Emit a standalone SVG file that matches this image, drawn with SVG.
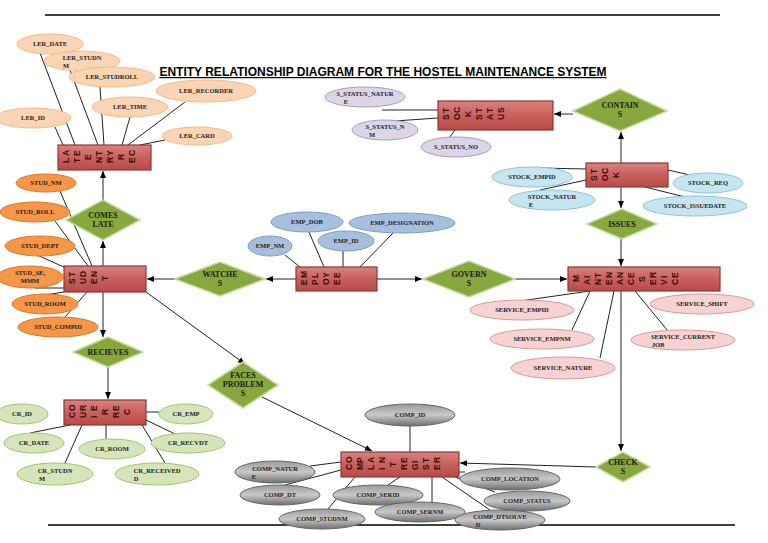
<svg xmlns="http://www.w3.org/2000/svg" width="768" height="543" viewBox="0 0 768 543">
<defs>
<linearGradient id="gr" x1="0" y1="0" x2="0" y2="1"><stop offset="0" stop-color="#d9827f"/><stop offset="0.5" stop-color="#c9605c"/><stop offset="1" stop-color="#b84a46"/></linearGradient>
<linearGradient id="gg" x1="0" y1="0" x2="0" y2="1"><stop offset="0" stop-color="#9a9a9a"/><stop offset="0.5" stop-color="#c8c8c8"/><stop offset="1" stop-color="#6e6e6e"/></linearGradient>
<marker id="ar" markerWidth="8" markerHeight="8" refX="7" refY="4" orient="auto" markerUnits="userSpaceOnUse"><path d="M0,1 L7,4 L0,7 z" fill="#000"/></marker>
<style>
.e rect{fill:url(#gr);stroke:#8c3836;stroke-width:1.2}
.e text{font-family:"Liberation Sans",sans-serif;font-weight:bold;font-size:8.5px;fill:#3a1010}
.d polygon{fill:#86a83c;stroke:#c5d9a0;stroke-width:1.5}
.d text,.a text{font-family:"Liberation Serif",serif;font-weight:bold;text-anchor:middle}
.d text{font-size:8px;fill:#1a1a1a}
.a text{font-size:6.5px;fill:#222}
.a ellipse{stroke-width:1}
.l{fill:#fbd4b4;stroke:#f5b98a}
.s{fill:#f79646;stroke:#d9772a}
.b{fill:#a7bfdf;stroke:#7e9cc6}
.v{fill:#dcd5e8;stroke:#a99cc4}
.c{fill:#c5e6f0;stroke:#8dc4d8}
.p{fill:#f6d2d2;stroke:#d99a9a}
.g{fill:#d5e5b9;stroke:#a5c272}
.k{fill:url(#gg);stroke:#666}
#conn line{stroke:#222;stroke-width:1;fill:none}
#conn .ar{marker-end:url(#ar)}
</style>
</defs>
<rect width="768" height="543" fill="#fff"/>
<line x1="45" y1="15" x2="720" y2="15" stroke="#000" stroke-width="1.5"/>
<line x1="48" y1="525" x2="735" y2="525" stroke="#000" stroke-width="1.5"/>
<text x="383" y="76" font-family="Liberation Sans,sans-serif" font-weight="bold" font-size="12" text-anchor="middle" text-decoration="underline">ENTITY RELATIONSHIP DIAGRAM FOR THE HOSTEL MAINTENANCE SYSTEM</text>

<g id="conn">
<line x1="40" y1="53" x2="75" y2="145"/><line x1="70" y1="70" x2="98" y2="145"/><line x1="100" y1="87" x2="104" y2="145"/><line x1="185" y1="102" x2="128" y2="145"/><line x1="130" y1="117" x2="122" y2="145"/><line x1="55" y1="127" x2="63" y2="145"/><line x1="165" y1="140" x2="140" y2="145"/>
<line x1="60" y1="191" x2="92" y2="266"/><line x1="55" y1="221" x2="88" y2="266"/><line x1="37" y1="255" x2="66" y2="268"/><line x1="35" y1="288" x2="64" y2="288"/><line x1="45" y1="295" x2="64" y2="292"/><line x1="65" y1="317" x2="87" y2="292"/>
<line x1="309" y1="232" x2="324" y2="267"/><line x1="343" y1="251" x2="343" y2="267"/><line x1="393" y1="233" x2="360" y2="267"/><line x1="285" y1="255" x2="300" y2="267"/>
<line x1="382" y1="110" x2="438" y2="110"/><line x1="380" y1="122" x2="438" y2="118"/><line x1="449" y1="138" x2="455" y2="130"/>
<line x1="540" y1="168" x2="586" y2="169"/><line x1="540" y1="190" x2="586" y2="180"/><line x1="668" y1="170" x2="690" y2="175"/><line x1="645" y1="187" x2="685" y2="197"/>
<line x1="520" y1="301" x2="590" y2="291"/><line x1="572" y1="330" x2="590" y2="291"/><line x1="600" y1="358" x2="614" y2="291"/><line x1="668" y1="297" x2="690" y2="296"/><line x1="668" y1="331" x2="635" y2="291"/>
<line x1="159" y1="412" x2="146" y2="412"/><line x1="30" y1="433" x2="70" y2="425"/><line x1="106" y1="439" x2="106" y2="425"/><line x1="175" y1="434" x2="146" y2="420"/><line x1="65" y1="463" x2="82" y2="425"/><line x1="165" y1="463" x2="142" y2="425"/>
<line x1="410" y1="426" x2="410" y2="452"/><line x1="310" y1="466" x2="341" y2="462"/><line x1="285" y1="485" x2="341" y2="470"/><line x1="388" y1="485" x2="400" y2="477"/><line x1="465" y1="472" x2="459" y2="472"/><line x1="495" y1="492" x2="455" y2="477"/><line x1="328" y1="509" x2="355" y2="477"/><line x1="432" y1="502" x2="432" y2="477"/><line x1="490" y1="510" x2="442" y2="477"/>
<line class="ar" x1="103" y1="266" x2="103" y2="241"/><line class="ar" x1="103" y1="200" x2="103" y2="171"/>
<line class="ar" x1="296" y1="279" x2="266" y2="279"/><line class="ar" x1="175" y1="279" x2="147" y2="279"/>
<line class="ar" x1="103" y1="292" x2="103" y2="337"/><line class="ar" x1="108" y1="367" x2="108" y2="399"/>
<line class="ar" x1="146" y1="292" x2="245" y2="364"/><line class="ar" x1="262" y1="397" x2="372" y2="451"/>
<line class="ar" x1="377" y1="279" x2="422" y2="279"/><line class="ar" x1="515" y1="279" x2="567" y2="279"/>
<line class="ar" x1="621" y1="163" x2="621" y2="132"/><line class="ar" x1="573" y1="114" x2="554" y2="114"/>
<line class="ar" x1="621" y1="187" x2="621" y2="208"/><line class="ar" x1="621" y1="239" x2="621" y2="266"/>
<line class="ar" x1="621" y1="291" x2="621" y2="451"/><line class="ar" x1="596" y1="467" x2="460" y2="463"/>
</g>

<g id="ler" class="e"><rect x="58" y="145" width="93" height="25"/>
<text x="69 69" y="163 156" rotate="-90">LA</text><text x="80 80" y="163 156" rotate="-90">TE</text><text x="91" y="160" rotate="-90">E</text><text x="102 102" y="163 156" rotate="-90">NT</text><text x="113 113" y="163 156" rotate="-90">RY</text><text x="124" y="160" rotate="-90">R</text><text x="135 135" y="163 156" rotate="-90">EC</text></g>
<g id="student" class="e"><rect x="64" y="266" width="82" height="26"/>
<text x="75 75" y="284 277" rotate="-90">ST</text><text x="86 86" y="284 277" rotate="-90">UD</text><text x="97 97" y="284 277" rotate="-90">EN</text><text x="108" y="281" rotate="-90">T</text></g>
<g id="employee" class="e"><rect x="296" y="267" width="81" height="24"/>
<text x="307 307" y="285 278" rotate="-90">EM</text><text x="318 318" y="285 278" rotate="-90">PL</text><text x="329 329" y="285 278" rotate="-90">OY</text><text x="340 340" y="285 278" rotate="-90">EE</text></g>
<g id="maint" class="e"><rect x="568" y="267" width="152" height="24"/>
<text x="579" y="282" rotate="-90">M</text><text x="590 590" y="285 278" rotate="-90">AI</text><text x="601 601" y="285 278" rotate="-90">NT</text><text x="612 612" y="285 278" rotate="-90">EN</text><text x="623 623" y="285 278" rotate="-90">AN</text><text x="634 634" y="285 278" rotate="-90">CE</text><text x="645" y="282" rotate="-90">S</text><text x="656 656" y="285 278" rotate="-90">ER</text><text x="667 667" y="285 278" rotate="-90">VI</text><text x="678 678" y="285 278" rotate="-90">CE</text></g>
<g id="stockstatus" class="e"><rect x="438" y="101" width="115" height="29"/>
<text x="449 449" y="120 113" rotate="-90">ST</text><text x="460 460" y="120 113" rotate="-90">OC</text><text x="471" y="117" rotate="-90">K</text><text x="482 482" y="120 113" rotate="-90">ST</text><text x="493 493" y="120 113" rotate="-90">AT</text><text x="504 504" y="120 113" rotate="-90">US</text></g>
<g id="stock" class="e"><rect x="586" y="163" width="82" height="24"/>
<text x="597 597" y="181 174" rotate="-90">ST</text><text x="608 608" y="181 174" rotate="-90">OC</text><text x="619" y="178" rotate="-90">K</text></g>
<g id="courier" class="e"><rect x="64" y="400" width="82" height="25"/>
<text x="75 75" y="418 411" rotate="-90">CO</text><text x="86 86" y="418 411" rotate="-90">UR</text><text x="97 97" y="418 411" rotate="-90">IE</text><text x="108" y="415" rotate="-90">R</text><text x="119 119" y="418 411" rotate="-90">RE</text><text x="130" y="415" rotate="-90">C</text></g>
<g id="complaint" class="e"><rect x="341" y="452" width="118" height="25"/>
<text x="352 352" y="470 463" rotate="-90">CO</text><text x="363 363" y="470 463" rotate="-90">MP</text><text x="374 374" y="470 463" rotate="-90">LA</text><text x="385 385" y="470 463" rotate="-90">IN</text><text x="396" y="467" rotate="-90">T</text><text x="407 407" y="470 463" rotate="-90">RE</text><text x="418 418" y="470 463" rotate="-90">GI</text><text x="429 429" y="470 463" rotate="-90">ST</text><text x="440 440" y="470 463" rotate="-90">ER</text></g>

<g id="comeslate" class="d"><polygon points="66,220 103,200 140,220 103,240"/><text x="103" y="218">COMES</text><text x="103" y="227">LATE</text></g>
<g id="watches" class="d"><polygon points="175,279 220,262 265,279 220,296"/><text x="220" y="277">WATCHE</text><text x="220" y="286">S</text></g>
<g id="governs" class="d"><polygon points="423,279 469,261 515,279 469,297"/><text x="469" y="277">GOVERN</text><text x="469" y="286">S</text></g>
<g id="contains" class="d"><polygon points="573,111 620,89 667,111 620,131"/><text x="620" y="108">CONTAIN</text><text x="620" y="117">S</text></g>
<g id="issues" class="d"><polygon points="587,224 622,209 657,224 622,239"/><text x="622" y="227">ISSUES</text></g>
<g id="recieves" class="d"><polygon points="73,352 108,337 143,352 108,367"/><text x="108" y="355">RECIEVES</text></g>
<g id="faces" class="d"><polygon points="208,385 243,362 278,385 243,408"/><text x="243" y="378">FACES</text><text x="243" y="387">PROBLEM</text><text x="243" y="396">S</text></g>
<g id="checks" class="d"><polygon points="596,467 623,452 650,467 623,482"/><text x="623" y="465">CHECK</text><text x="623" y="474">S</text></g>

<g class="a">
<g id="ler_date"><ellipse class="l" cx="50" cy="44" rx="33" ry="10"/><text x="50" y="46">LER_DATE</text></g>
<g id="ler_studnm"><ellipse class="l" cx="82" cy="61" rx="38" ry="10"/><text x="82" y="60">LER_STUDN</text><text x="66" y="68">M</text></g>
<g id="ler_studroll"><ellipse class="l" cx="112" cy="77" rx="43" ry="10"/><text x="112" y="79">LER_STUDROLL</text></g>
<g id="ler_recorder"><ellipse class="l" cx="206" cy="91" rx="50" ry="11"/><text x="206" y="93">LER_RECORDER</text></g>
<g id="ler_time"><ellipse class="l" cx="130" cy="107" rx="38" ry="10"/><text x="130" y="109">LER_TIME</text></g>
<g id="ler_id"><ellipse class="l" cx="33" cy="118" rx="38" ry="10"/><text x="33" y="120">LER_ID</text></g>
<g id="ler_card"><ellipse class="l" cx="197" cy="136" rx="35" ry="9"/><text x="197" y="138">LER_CARD</text></g>

<g id="stud_nm"><ellipse class="s" cx="46" cy="183" rx="30" ry="9"/><text x="46" y="185">STUD_NM</text></g>
<g id="stud_roll"><ellipse class="s" cx="35" cy="212" rx="35" ry="10"/><text x="35" y="214">STUD_ROLL</text></g>
<g id="stud_dept"><ellipse class="s" cx="40" cy="246" rx="35" ry="10"/><text x="40" y="248">STUD_DEPT</text></g>
<g id="stud_sem"><ellipse class="s" cx="30" cy="277" rx="33" ry="11"/><text x="30" y="275">STUD_SE,</text><text x="30" y="283">MMM</text></g>
<g id="stud_room"><ellipse class="s" cx="45" cy="304" rx="33" ry="10"/><text x="45" y="306">STUD_ROOM</text></g>
<g id="stud_compid"><ellipse class="s" cx="58" cy="327" rx="40" ry="10"/><text x="58" y="329">STUD_COMPID</text></g>

<g id="emp_dob"><ellipse class="b" cx="307" cy="222" rx="36" ry="10"/><text x="307" y="224">EMP_DOB</text></g>
<g id="emp_nm"><ellipse class="b" cx="270" cy="246" rx="22" ry="10"/><text x="270" y="248">EMP_NM</text></g>
<g id="emp_id"><ellipse class="b" cx="346" cy="241" rx="28" ry="10"/><text x="346" y="243">EMP_ID</text></g>
<g id="emp_desig"><ellipse class="b" cx="402" cy="223" rx="53" ry="10"/><text x="402" y="225">EMP_DESIGNATION</text></g>

<g id="ss_natur"><ellipse class="v" cx="365" cy="97" rx="40" ry="10"/><text x="365" y="96">S_STATUS_NATUR</text><text x="346" y="104">E</text></g>
<g id="ss_nm"><ellipse class="v" cx="385" cy="130" rx="33" ry="10"/><text x="385" y="129">S_STATUS_N</text><text x="372" y="137">M</text></g>
<g id="ss_no"><ellipse class="v" cx="456" cy="147" rx="35" ry="10"/><text x="456" y="149">S_STATUS_NO</text></g>

<g id="stock_empid"><ellipse class="c" cx="532" cy="177" rx="40" ry="10"/><text x="532" y="179">STOCK_EMPID</text></g>
<g id="stock_natur"><ellipse class="c" cx="552" cy="200" rx="43" ry="10"/><text x="552" y="199">STOCK_NATUR</text><text x="531" y="207">E</text></g>
<g id="stock_req"><ellipse class="c" cx="708" cy="183" rx="35" ry="10"/><text x="708" y="185">STOCK_REQ</text></g>
<g id="stock_issue"><ellipse class="c" cx="695" cy="206" rx="52" ry="10"/><text x="695" y="208">STOCK_ISSUEDATE</text></g>

<g id="svc_empid"><ellipse class="p" cx="522" cy="310" rx="52" ry="10"/><text x="522" y="312">SERVICE_EMPID</text></g>
<g id="svc_empnm"><ellipse class="p" cx="542" cy="339" rx="52" ry="10"/><text x="542" y="341">SERVICE_EMPNM</text></g>
<g id="svc_nature"><ellipse class="p" cx="563" cy="368" rx="52" ry="11"/><text x="563" y="370">SERVICE_NATURE</text></g>
<g id="svc_shift"><ellipse class="p" cx="702" cy="304" rx="52" ry="10"/><text x="702" y="306">SERVICE_SHIFT</text></g>
<g id="svc_job"><ellipse class="p" cx="683" cy="340" rx="52" ry="10"/><text x="683" y="339">SERVICE_CURRENT</text><text x="658" y="347">JOB</text></g>

<g id="cr_id"><ellipse class="g" cx="22" cy="414" rx="26" ry="10"/><text x="22" y="416">CR_ID</text></g>
<g id="cr_date"><ellipse class="g" cx="34" cy="443" rx="30" ry="10"/><text x="34" y="445">CR_DATE</text></g>
<g id="cr_room"><ellipse class="g" cx="112" cy="449" rx="33" ry="10"/><text x="112" y="451">CR_ROOM</text></g>
<g id="cr_recvdt"><ellipse class="g" cx="188" cy="443" rx="37" ry="10"/><text x="188" y="445">CR_RECVDT</text></g>
<g id="cr_emp"><ellipse class="g" cx="186" cy="414" rx="27" ry="10"/><text x="186" y="416">CR_EMP</text></g>
<g id="cr_studnm"><ellipse class="g" cx="55" cy="474" rx="38" ry="11"/><text x="55" y="473">CR_STUDN</text><text x="42" y="481">M</text></g>
<g id="cr_received"><ellipse class="g" cx="157" cy="474" rx="42" ry="11"/><text x="157" y="473">CR_RECEIVED</text><text x="136" y="481">D</text></g>

<g id="comp_id"><ellipse class="k" cx="410" cy="415" rx="45" ry="11"/><text x="410" y="417">COMP_ID</text></g>
<g id="comp_natur"><ellipse class="k" cx="275" cy="472" rx="40" ry="11"/><text x="275" y="471">COMP_NATUR</text><text x="254" y="479">E</text></g>
<g id="comp_dt"><ellipse class="k" cx="280" cy="495" rx="40" ry="10"/><text x="280" y="497">COMP_DT</text></g>
<g id="comp_serid"><ellipse class="k" cx="378" cy="495" rx="45" ry="10"/><text x="378" y="497">COMP_SERID</text></g>
<g id="comp_loc"><ellipse class="k" cx="510" cy="479" rx="50" ry="11"/><text x="510" y="481">COMP_LOCATION</text></g>
<g id="comp_status"><ellipse class="k" cx="527" cy="501" rx="43" ry="10"/><text x="527" y="503">COMP_STATUS</text></g>
<g id="comp_studnm"><ellipse class="k" cx="322" cy="519" rx="43" ry="10"/><text x="322" y="521">COMP_STUDNM</text></g>
<g id="comp_sernm"><ellipse class="k" cx="420" cy="512" rx="45" ry="10"/><text x="420" y="514">COMP_SERNM</text></g>
<g id="comp_dtsolved"><ellipse class="k" cx="500" cy="520" rx="45" ry="10"/><text x="500" y="519">COMP_DTSOLVE</text><text x="478" y="527">D</text></g>
</g>
</svg>
